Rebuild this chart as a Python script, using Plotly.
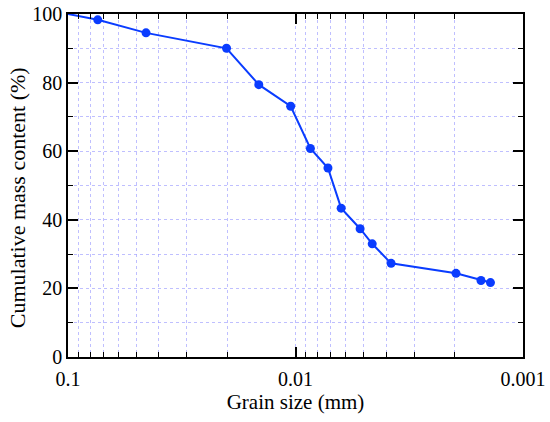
import plotly.graph_objects as go

grain_size_mm = [0.1, 0.074, 0.0454, 0.0201, 0.0145, 0.0105, 0.0086, 0.0072,
                 0.0063, 0.0052, 0.0046, 0.0038, 0.00197, 0.00153, 0.00139]
cumulative_pct = [100.0, 98.3, 94.5, 90.0, 79.4, 73.1, 60.8, 55.1,
                  43.4, 37.4, 33.0, 27.3, 24.4, 22.3, 21.7]

x_major = [0.1, 0.01, 0.001]
x_major_text = ["0.1", "0.01", "0.001"]
x_minor = [0.09, 0.08, 0.07, 0.06, 0.05, 0.04, 0.03, 0.02,
           0.009, 0.008, 0.007, 0.006, 0.005, 0.004, 0.003, 0.002]
y_major = [0, 20, 40, 60, 80, 100]
y_minor = [10, 30, 50, 70, 90]

x_title = "Grain size (mm)"
y_title = "Cumulative mass content (%)"

blue = "#0a3cff"
grid = "rgba(170,170,255,0.75)"
fam = "Liberation Serif"
tick_font = dict(family=fam, size=20, color="black")
xtitle_font = dict(family=fam, size=21, color="black")
ytitle_font = dict(family=fam, size=22, color="black")

fig = go.Figure()
fig.add_trace(go.Scatter(
    x=grain_size_mm, y=cumulative_pct, mode="lines+markers",
    line=dict(color=blue, width=2),
    marker=dict(color=blue, size=9),
    cliponaxis=False, showlegend=False,
))

fig.update_layout(
    width=550, height=422,
    margin=dict(l=68, r=27, t=14, b=65, autoexpand=False),
    paper_bgcolor="white", plot_bgcolor="white",
    font=tick_font,
    xaxis=dict(
        type="log", range=[-1, -3],
        tickvals=x_major, ticktext=x_major_text, tickfont=tick_font,
        ticklabelstandoff=3,
        ticks="inside", ticklen=10, tickwidth=1.5, tickcolor="black",
        showline=True, linecolor="black", linewidth=1.5, mirror="allticks",
        showgrid=True, gridcolor=grid, griddash="dot", gridwidth=1,
        zeroline=False,
        title=dict(text=x_title, font=xtitle_font, standoff=6),
        minor=dict(tickvals=x_minor, ticks="inside", ticklen=5, tickwidth=1.2,
                   tickcolor="black", showgrid=True, gridcolor=grid,
                   griddash="dot", gridwidth=1),
    ),
    yaxis=dict(
        range=[0, 100],
        tickvals=y_major, tickfont=tick_font,
        ticks="inside", ticklen=10, tickwidth=1.5, tickcolor="black",
        showline=True, linecolor="black", linewidth=1.5, mirror="allticks",
        showgrid=True, gridcolor=grid, griddash="dot", gridwidth=1,
        zeroline=False,
        minor=dict(tickvals=y_minor, ticks="inside", ticklen=5, tickwidth=1.2,
                   tickcolor="black", showgrid=True, gridcolor=grid,
                   griddash="dot", gridwidth=1),
    ),
    annotations=[dict(
        text=y_title, font=ytitle_font, textangle=-90,
        xref="paper", yref="paper", x=-0.112, y=0.463,
        xanchor="center", yanchor="middle", showarrow=False,
    )],
)

fig.write_html("out.html", config={"displayModeBar": False},
               post_script="document.body.style.margin='0';")
